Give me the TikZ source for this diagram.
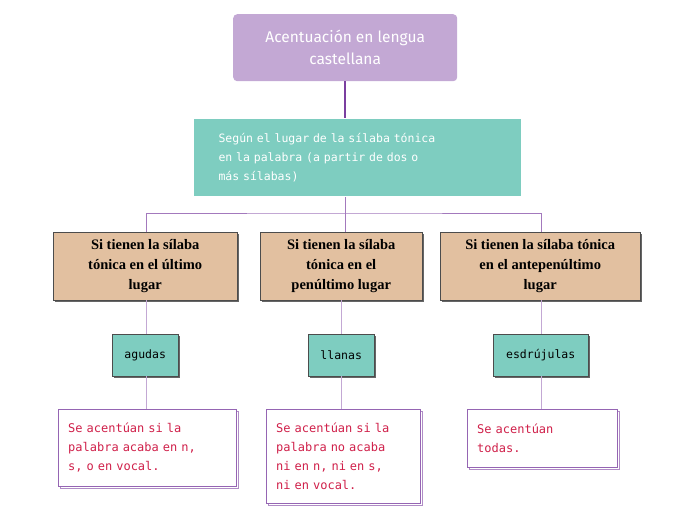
\documentclass[tikz,border=0pt]{standalone}
\usepackage{fontspec}
\setmainfont{Fira Sans}
\newfontfamily\monof{DejaVu Sans Mono}
\newfontfamily\boldserif{Liberation Serif}
\usetikzlibrary{shadows}
\definecolor{lilac}{HTML}{C3A8D4}
\definecolor{teal1}{HTML}{7ECDC0}
\definecolor{tan1}{HTML}{E2C0A0}
\definecolor{purp}{HTML}{7B3FA0}
\definecolor{redt}{HTML}{D0204A}
\tikzset{
 box/.style={anchor=north west,inner sep=0pt},
 tanbox/.style={box,fill=tan1,draw=black!70,drop shadow={shadow xshift=2pt,shadow yshift=-2pt,fill=black!60,opacity=1},align=center,font=\boldserif\bfseries\fontsize{14.5}{20}\selectfont},
 tealsm/.style={box,fill=teal1,draw=black!70,drop shadow={shadow xshift=2pt,shadow yshift=-2pt,fill=black!60,opacity=1},align=center,font=\monof\fontsize{11.5}{13}\selectfont},
 whitebox/.style={box,fill=white,draw=purp!80,drop shadow={shadow xshift=2pt,shadow yshift=-2pt,draw=purp!60,fill=white,opacity=1},font=\monof\fontsize{12}{19}\selectfont,text=redt,align=left},
 ln/.style={draw=purp!70,line width=0.6pt},
}
\begin{document}
\begin{tikzpicture}[x=1pt,y=-1pt]
\useasboundingbox (0,0) rectangle (696,520);
\node[box,fill=lilac,rounded corners=4pt,minimum width=224pt,minimum height=67pt,text=white,align=center,font=\fontsize{15.5}{22}\selectfont] (t) at (233,14) {Acentuación en lengua\\castellana};
\node[box,fill=teal1,draw=white,line width=1pt,minimum width=303pt,minimum height=78pt,text=white,font=\monof\fontsize{11.5}{19}\selectfont,align=left,text width=278pt,inner xsep=25pt,inner ysep=0pt] (s) at (193,118) {Según el lugar de la sílaba tónica\\en la palabra (a partir de dos o\\más sílabas)};
\node[tanbox,minimum width=184pt,minimum height=68pt] (a) at (53,232) {Si tienen la sílaba\\tónica en el último\\lugar};
\node[tanbox,minimum width=162pt,minimum height=68pt] (b) at (260,232) {Si tienen la sílaba\\tónica en el\\penúltimo lugar};
\node[tanbox,minimum width=200pt,minimum height=68pt] (c) at (440,232) {Si tienen la sílaba tónica\\en el antepenúltimo\\lugar};
\node[tealsm,minimum width=66pt,minimum height=42pt] (a2) at (112,334) {agudas};
\node[tealsm,minimum width=66pt,minimum height=42pt] (b2) at (308,334) {llanas};
\node[tealsm,minimum width=95pt,minimum height=42pt] (c2) at (493,334) {esdrújulas};
\node[whitebox,minimum width=174pt,minimum height=77pt,text width=158pt,inner xsep=10pt,inner ysep=6pt] (a3) at (58,409) {Se acentúan si la\\palabra acaba en n,\\s, o en vocal.};
\node[whitebox,minimum width=150pt,minimum height=94pt,text width=134pt,inner xsep=10pt,inner ysep=6pt] (b3) at (266,409) {Se acentúan si la\\palabra no acaba\\ni en n, ni en s,\\ni en vocal.};
\node[whitebox,minimum width=146pt,minimum height=58pt,text width=130pt,inner xsep=10pt,inner ysep=6pt] (c3) at (467,409) {Se acentúan\\todas.};
\draw[purp,line width=1.5pt] (t.south) -- (t.south |- s.north);
\coordinate (j) at (345,213);
\draw[ln] (s.south -| j) -- (j);
\draw[ln] (a.north -| 146,0) |- (j) -| (c.north -| 541,0);
\draw[ln] (j) -- (b.north -| j);
\draw[ln,draw=lilac] (146,300) -- (146,334) (146,376) -- (146,409);
\draw[ln,draw=lilac] (341,300) -- (341,334) (341,376) -- (341,409);
\draw[ln,draw=lilac] (541,300) -- (541,334) (541,376) -- (541,409);
\end{tikzpicture}
\end{document}
